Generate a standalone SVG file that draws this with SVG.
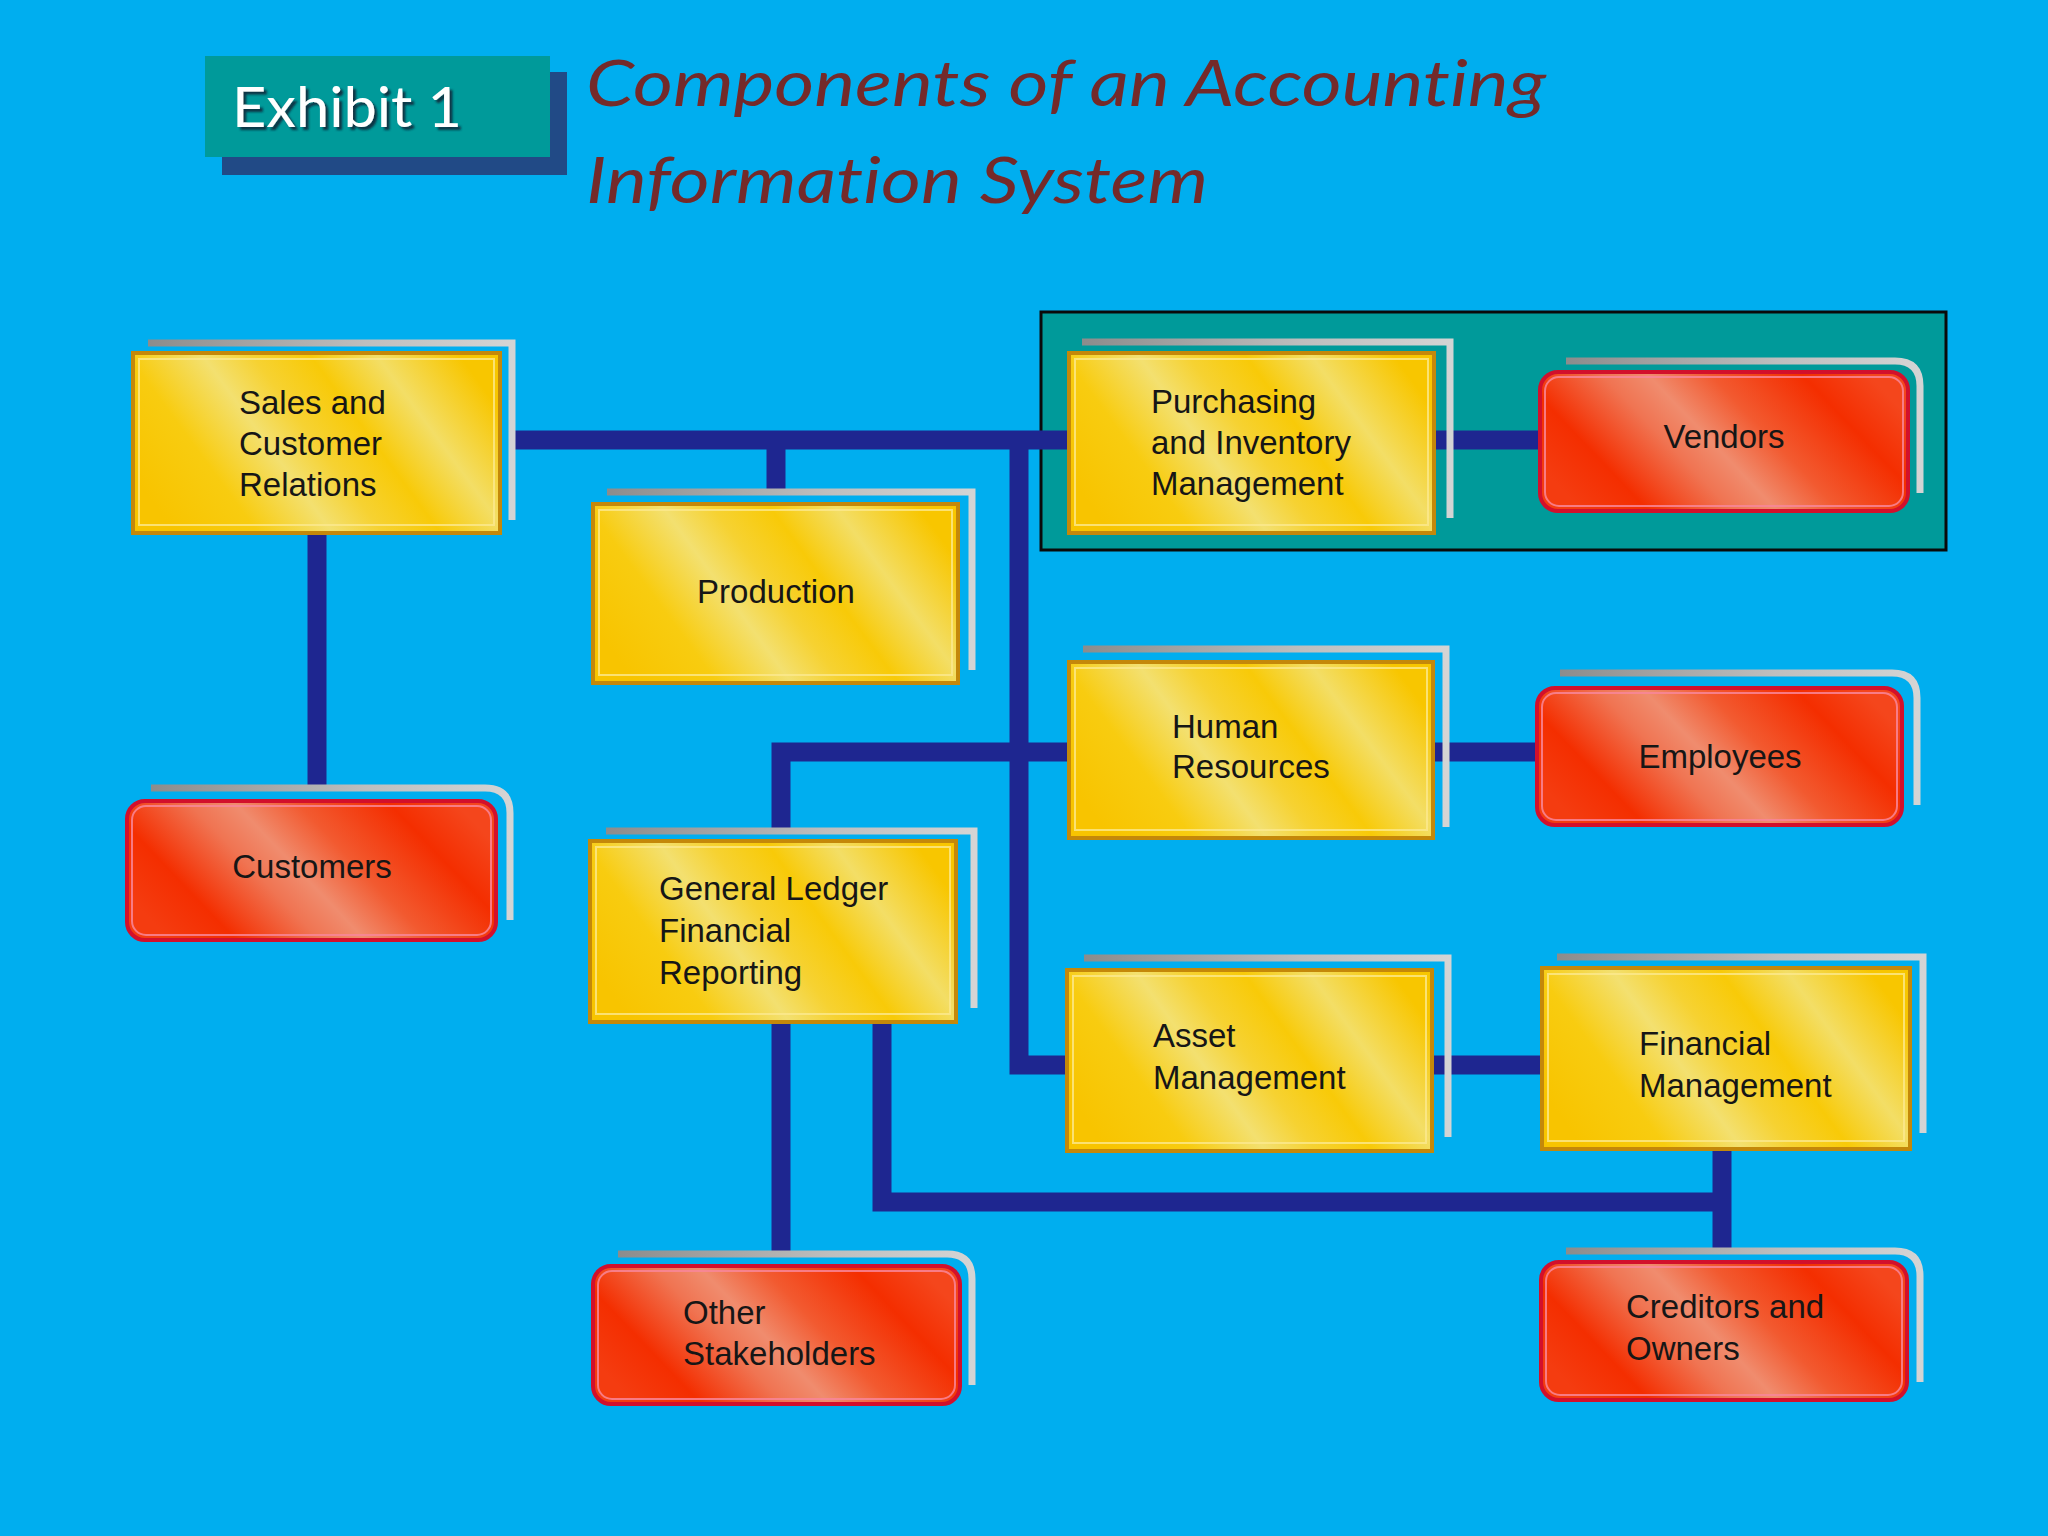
<svg xmlns="http://www.w3.org/2000/svg" width="2048" height="1536" viewBox="0 0 2048 1536">
<defs>
<linearGradient id="gy" x1="0" y1="0.68" x2="1" y2="0.32">
<stop offset="0" stop-color="#F8C400"/>
<stop offset="0.2" stop-color="#F8CC10"/>
<stop offset="0.38" stop-color="#F3E070"/>
<stop offset="0.5" stop-color="#F6D232"/>
<stop offset="0.64" stop-color="#F8CA08"/>
<stop offset="0.8" stop-color="#F3DE66"/>
<stop offset="1" stop-color="#F8C600"/>
</linearGradient>
<linearGradient id="gr" x1="0" y1="0.68" x2="1" y2="0.32">
<stop offset="0" stop-color="#F43C10"/>
<stop offset="0.16" stop-color="#F42E00"/>
<stop offset="0.36" stop-color="#F07452"/>
<stop offset="0.47" stop-color="#F08C6E"/>
<stop offset="0.62" stop-color="#F25A30"/>
<stop offset="0.84" stop-color="#F42E00"/>
<stop offset="1" stop-color="#F4461C"/>
</linearGradient>
<linearGradient id="gg" x1="0" y1="0" x2="1" y2="0">
<stop offset="0" stop-color="#8C8C8C"/>
<stop offset="0.6" stop-color="#BEBEBE"/>
<stop offset="1" stop-color="#D4D4D4"/>
</linearGradient>
<filter id="tsh" x="-10%" y="-20%" width="130%" height="150%">
<feDropShadow dx="3" dy="3" stdDeviation="1.2" flood-color="#0B2A3A" flood-opacity="0.9"/>
</filter>
</defs>
<style>
.frame{fill:none;stroke:url(#gg);stroke-width:7}
.yb{fill:url(#gy);stroke:#C4880A;stroke-width:4}
.yi{fill:none;stroke:#FBE98E;stroke-width:2;opacity:0.8}
.rb{fill:url(#gr);stroke:#D2102C;stroke-width:4}
.ri{fill:none;stroke:#F8869A;stroke-width:2;opacity:0.85}
.lbl{font-family:"Liberation Sans",Arial,sans-serif;font-size:33px;fill:#161616}
.mid{text-anchor:middle}
.ttl{font-family:Lato,"Open Sans",sans-serif;font-style:italic;font-size:64px;fill:#742A2A;font-variant-ligatures:none}
.conn{fill:none;stroke:#1E2690;stroke-width:19;stroke-linejoin:miter;stroke-linecap:butt}
</style>
<rect width="2048" height="1536" fill="#00AEEF"/>

<g id="title">
<rect x="222" y="72" width="345" height="103" fill="#214A86"/>
<rect x="205" y="56" width="345" height="101" fill="#009A9A"/>
<text x="232" y="127" font-family="Lato,'Open Sans',sans-serif" font-size="56" fill="#FFFFFF" filter="url(#tsh)" textLength="230" lengthAdjust="spacingAndGlyphs">Exhibit 1</text>
<text class="ttl" x="586" y="106" textLength="960" lengthAdjust="spacingAndGlyphs">Components of an Accounting</text>
<text class="ttl" x="586" y="203" textLength="622" lengthAdjust="spacingAndGlyphs">Information System</text>
</g>

<g id="group-purchasing">
<rect x="1041" y="312" width="905" height="238" fill="#009A9A" stroke="#0A0A0A" stroke-width="3"/>
</g>

<g id="connectors">
<path class="conn" d="M515 440 H1069"/>
<path class="conn" d="M776 440 V492"/>
<path class="conn" d="M1019 440 V1065 H1067"/>
<path class="conn" d="M1434 440 H1540"/>
<path class="conn" d="M1069 752 H781 V831"/>
<path class="conn" d="M1433 752 H1537"/>
<path class="conn" d="M317 533 V788"/>
<path class="conn" d="M781 1022 V1254"/>
<path class="conn" d="M882 1022 V1202 H1722"/>
<path class="conn" d="M1722 1149 V1251"/>
<path class="conn" d="M1432 1065 H1542"/>
</g>

<g id="sales">
<path class="frame" d="M148 343 H512 V520"/>
<rect class="yb" x="133" y="353" width="367" height="180"/>
<rect class="yi" x="139" y="359" width="355" height="166"/>
<text class="lbl" x="239" y="414">Sales and</text>
<text class="lbl" x="239" y="455">Customer</text>
<text class="lbl" x="239" y="496">Relations</text>
</g>

<g id="production">
<path class="frame" d="M607 492 H972 V670"/>
<rect class="yb" x="593" y="504" width="365" height="179"/>
<rect class="yi" x="599" y="510" width="353" height="165"/>
<text class="lbl mid" x="776" y="603">Production</text>
</g>

<g id="purchasing">
<path class="frame" d="M1082 342 H1450 V518"/>
<rect class="yb" x="1069" y="353" width="365" height="180"/>
<rect class="yi" x="1075" y="359" width="353" height="166"/>
<text class="lbl" x="1151" y="413">Purchasing</text>
<text class="lbl" x="1151" y="454">and Inventory</text>
<text class="lbl" x="1151" y="495">Management</text>
</g>

<g id="vendors">
<path class="frame" d="M1566 361 H1895 Q1920 361 1920 386 V493"/>
<rect class="rb" x="1540" y="372" width="368" height="139" rx="18"/>
<rect class="ri" x="1545" y="377" width="358" height="129" rx="14"/>
<text class="lbl mid" x="1724" y="448">Vendors</text>
</g>

<g id="human-resources">
<path class="frame" d="M1083 649 H1446 V827"/>
<rect class="yb" x="1069" y="662" width="364" height="176"/>
<rect class="yi" x="1075" y="668" width="352" height="162"/>
<text class="lbl" x="1172" y="738">Human</text>
<text class="lbl" x="1172" y="778">Resources</text>
</g>

<g id="employees">
<path class="frame" d="M1560 673 H1892 Q1917 673 1917 698 V805"/>
<rect class="rb" x="1537" y="688" width="365" height="137" rx="18"/>
<rect class="ri" x="1542" y="693" width="355" height="127" rx="14"/>
<text class="lbl mid" x="1720" y="768">Employees</text>
</g>

<g id="customers">
<path class="frame" d="M151 788 H485 Q510 788 510 813 V920"/>
<rect class="rb" x="127" y="801" width="369" height="139" rx="18"/>
<rect class="ri" x="132" y="806" width="359" height="129" rx="14"/>
<text class="lbl mid" x="312" y="878">Customers</text>
</g>

<g id="general-ledger">
<path class="frame" d="M606 831 H974 V1008"/>
<rect class="yb" x="590" y="841" width="366" height="181"/>
<rect class="yi" x="596" y="847" width="354" height="167"/>
<text class="lbl" x="659" y="900">General Ledger</text>
<text class="lbl" x="659" y="942">Financial</text>
<text class="lbl" x="659" y="984">Reporting</text>
</g>

<g id="asset-management">
<path class="frame" d="M1084 958 H1448 V1137"/>
<rect class="yb" x="1067" y="970" width="365" height="181"/>
<rect class="yi" x="1073" y="976" width="353" height="167"/>
<text class="lbl" x="1153" y="1047">Asset</text>
<text class="lbl" x="1153" y="1089">Management</text>
</g>

<g id="financial-management">
<path class="frame" d="M1557 957 H1923 V1133"/>
<rect class="yb" x="1542" y="968" width="368" height="181"/>
<rect class="yi" x="1548" y="974" width="356" height="167"/>
<text class="lbl" x="1639" y="1055">Financial</text>
<text class="lbl" x="1639" y="1097">Management</text>
</g>

<g id="other-stakeholders">
<path class="frame" d="M618 1254 H947 Q972 1254 972 1279 V1385"/>
<rect class="rb" x="593" y="1266" width="367" height="138" rx="18"/>
<rect class="ri" x="598" y="1271" width="357" height="128" rx="14"/>
<text class="lbl" x="683" y="1324">Other</text>
<text class="lbl" x="683" y="1365">Stakeholders</text>
</g>

<g id="creditors-owners">
<path class="frame" d="M1566 1251 H1895 Q1920 1251 1920 1276 V1382"/>
<rect class="rb" x="1541" y="1262" width="366" height="138" rx="18"/>
<rect class="ri" x="1546" y="1267" width="356" height="128" rx="14"/>
<text class="lbl" x="1626" y="1318">Creditors and</text>
<text class="lbl" x="1626" y="1360">Owners</text>
</g>
</svg>
